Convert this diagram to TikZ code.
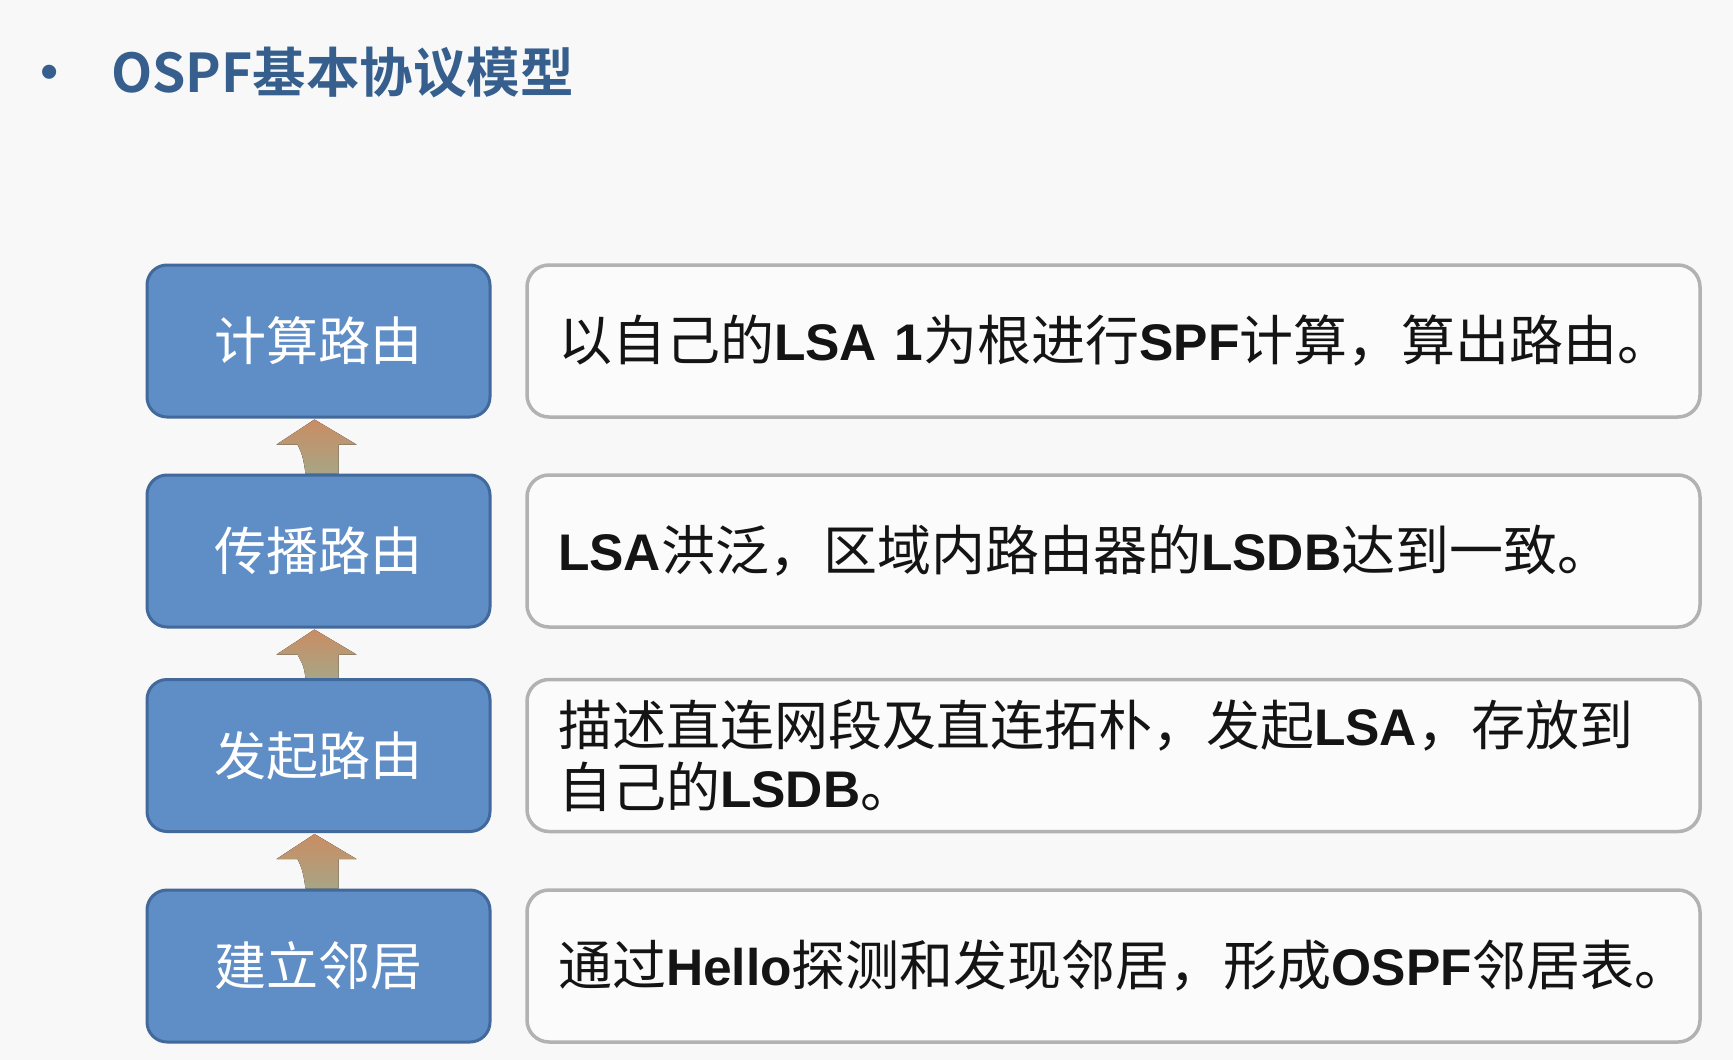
\documentclass[tikz,border=0pt]{standalone}
\usepackage{fontspec}
\setmainfont{Liberation Sans}
\newfontfamily\cjk{Noto Sans CJK SC}[BoldFont={Noto Sans CJK SC Bold}]
\newfontfamily\lat{Liberation Sans}
\newcommand\EN[1]{{\lat\bfseries\fontsize{51.5}{62}\selectfont #1}}
\usetikzlibrary{calc}
\definecolor{bgc}{HTML}{F8F8F8}
\definecolor{stagefill}{HTML}{5F8DC6}
\definecolor{stageborder}{HTML}{42699B}
\definecolor{descfill}{HTML}{FBFBFB}
\definecolor{descborder}{HTML}{B2B2B2}
\definecolor{titleblue}{HTML}{365F8E}
\definecolor{arrtop}{HTML}{C98D63}
\definecolor{arrbot}{HTML}{A8A584}
\definecolor{desctext}{HTML}{141414}
\pgfdeclarelayer{background}
\pgfsetlayers{background,main}
\newcommand\stagearrow[2]{% #1 lower node, #2 upper node
  \fill[upshade] ($(#2.south)+(-4,1)$) -- ($(#2.south)+(38,26)$) -- ($(#2.south)+(20,26)$)
    -- ($(#1.north)+(20,0)$) -- ($(#1.north)+(-13,0)$)
    .. controls ($(#1.north)+(-15,-14)$) and ($(#2.south)+(-16,36)$) .. ($(#2.south)+(-21,26)$)
    -- ($(#2.south)+(-42,26)$) -- cycle;}
\begin{document}
\begin{tikzpicture}[x=1pt,y=-1pt,
  stage/.style={draw=stageborder, line width=3pt, fill=stagefill, rounded corners=20pt,
    minimum width=343pt, minimum height=152pt, text=white, inner sep=0pt,
    font=\cjk\fontsize{52}{60}\selectfont},
  desc/.style={draw=descborder, line width=3.5pt, fill=descfill, rounded corners=22pt,
    minimum width=1173pt, minimum height=152pt, text width=1111pt, inner xsep=31pt,
    inner ysep=0pt, align=left, text=desctext, font=\cjk\fontsize{54}{62}\selectfont},
  upshade/.style={top color=arrtop, bottom color=arrbot, draw=none}]
\useasboundingbox (0,0) rectangle (1733,1060);
\begin{pgfonlayer}{background}
  \fill[bgc] (0,0) rectangle (1733,1060);
\end{pgfonlayer}

\node[anchor=base, text=titleblue, font=\lat\fontsize{52}{56}\selectfont, inner sep=0pt] (bullet) at (50,89) {•};
\node[anchor=base west, text=titleblue, font=\cjk\bfseries\fontsize{53.5}{60}\selectfont, inner sep=0pt] (title) at (111,92) {OSPF基本协议模型};

\node[stage] (s1) at (318.5,341) {计算路由};
\node[stage] (s2) at (318.5,551) {传播路由};
\node[stage] (s3) at (318.5,755.5) {发起路由};
\node[stage] (s4) at (318.5,966) {建立邻居};

\node[desc] (d1) at (1113.5,341) {以自己的\EN{LSA 1}为根进行\EN{SPF}计算，算出路由。};
\node[desc] (d2) at (1113.5,551) {\EN{LSA}洪泛，区域内路由器的\EN{LSDB}达到一致。};
\node[desc] (d3) at (1113.5,755.5) {描述直连网段及直连拓朴，发起\EN{LSA}，存放到\\自己的\EN{LSDB}。};
\node[desc] (d4) at (1113.5,966) {通过\EN{Hello}探测和发现邻居，形成\EN{OSPF}邻居表。};

\begin{pgfonlayer}{background}
  \stagearrow{s2}{s1}
  \stagearrow{s3}{s2}
  \stagearrow{s4}{s3}
\end{pgfonlayer}
\end{tikzpicture}
\end{document}
